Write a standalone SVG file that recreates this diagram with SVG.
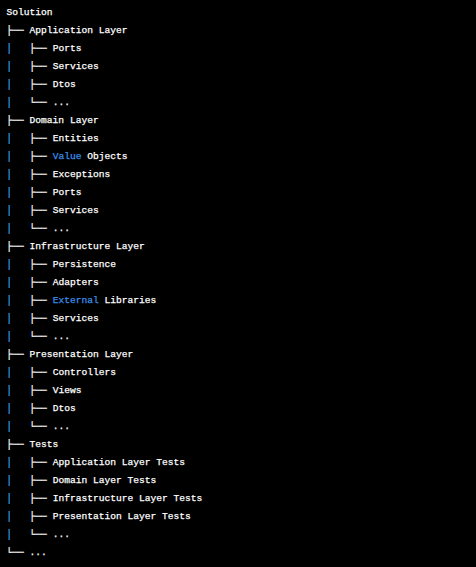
<svg xmlns="http://www.w3.org/2000/svg" width="476" height="567" viewBox="0 0 476 567" xml:space="preserve">
<style>
text{font-family:"Liberation Mono","DejaVu Sans Mono",monospace;font-size:9.6px;fill:#ffffff;stroke:#ffffff;stroke-width:0.25px;white-space:pre}
.b{fill:#3aa8f0;stroke:#3aa8f0}
.k{fill:#3b8eea;stroke:#3b8eea}
</style>
<rect width="476" height="567" fill="#000"/>
<g transform="translate(0,-0.8)">
<g id="connectors">
<text x="6.5" y="34">├── </text>
<text x="6.5" y="52"><tspan class="b">│</tspan>   ├── </text>
<text x="6.5" y="70"><tspan class="b">│</tspan>   ├── </text>
<text x="6.5" y="88"><tspan class="b">│</tspan>   ├── </text>
<text x="6.5" y="106"><tspan class="b">│</tspan>   └── </text>
<text x="6.5" y="124">├── </text>
<text x="6.5" y="142"><tspan class="b">│</tspan>   ├── </text>
<text x="6.5" y="160"><tspan class="b">│</tspan>   ├── </text>
<text x="6.5" y="178"><tspan class="b">│</tspan>   ├── </text>
<text x="6.5" y="196"><tspan class="b">│</tspan>   ├── </text>
<text x="6.5" y="214"><tspan class="b">│</tspan>   ├── </text>
<text x="6.5" y="232"><tspan class="b">│</tspan>   └── </text>
<text x="6.5" y="250">├── </text>
<text x="6.5" y="268"><tspan class="b">│</tspan>   ├── </text>
<text x="6.5" y="286"><tspan class="b">│</tspan>   ├── </text>
<text x="6.5" y="304"><tspan class="b">│</tspan>   ├── </text>
<text x="6.5" y="322"><tspan class="b">│</tspan>   ├── </text>
<text x="6.5" y="340"><tspan class="b">│</tspan>   └── </text>
<text x="6.5" y="358">├── </text>
<text x="6.5" y="376"><tspan class="b">│</tspan>   ├── </text>
<text x="6.5" y="394"><tspan class="b">│</tspan>   ├── </text>
<text x="6.5" y="412"><tspan class="b">│</tspan>   ├── </text>
<text x="6.5" y="430"><tspan class="b">│</tspan>   └── </text>
<text x="6.5" y="448">├── </text>
<text x="6.5" y="466"><tspan class="b">│</tspan>   ├── </text>
<text x="6.5" y="484"><tspan class="b">│</tspan>   ├── </text>
<text x="6.5" y="502"><tspan class="b">│</tspan>   ├── </text>
<text x="6.5" y="520"><tspan class="b">│</tspan>   ├── </text>
<text x="6.5" y="538"><tspan class="b">│</tspan>   └── </text>
<text x="6.5" y="556">└── </text>
</g>
<g id="solution"><text x="6.5" y="16">Solution</text></g>
<g id="application-layer">
<text x="29.58" y="34">Application Layer</text>
<text x="52.66" y="52">Ports</text>
<text x="52.66" y="70">Services</text>
<text x="52.66" y="88">Dtos</text>
<text x="52.66" y="106">...</text>
</g>
<g id="domain-layer">
<text x="29.58" y="124">Domain Layer</text>
<text x="52.66" y="142">Entities</text>
<text x="52.66" y="160"><tspan class="k">Value</tspan> Objects</text>
<text x="52.66" y="178">Exceptions</text>
<text x="52.66" y="196">Ports</text>
<text x="52.66" y="214">Services</text>
<text x="52.66" y="232">...</text>
</g>
<g id="infrastructure-layer">
<text x="29.58" y="250">Infrastructure Layer</text>
<text x="52.66" y="268">Persistence</text>
<text x="52.66" y="286">Adapters</text>
<text x="52.66" y="304"><tspan class="k">External</tspan> Libraries</text>
<text x="52.66" y="322">Services</text>
<text x="52.66" y="340">...</text>
</g>
<g id="presentation-layer">
<text x="29.58" y="358">Presentation Layer</text>
<text x="52.66" y="376">Controllers</text>
<text x="52.66" y="394">Views</text>
<text x="52.66" y="412">Dtos</text>
<text x="52.66" y="430">...</text>
</g>
<g id="tests">
<text x="29.58" y="448">Tests</text>
<text x="52.66" y="466">Application Layer Tests</text>
<text x="52.66" y="484">Domain Layer Tests</text>
<text x="52.66" y="502">Infrastructure Layer Tests</text>
<text x="52.66" y="520">Presentation Layer Tests</text>
<text x="52.66" y="538">...</text>
</g>
<g id="more"><text x="29.58" y="556">...</text></g>
</g>
</svg>
